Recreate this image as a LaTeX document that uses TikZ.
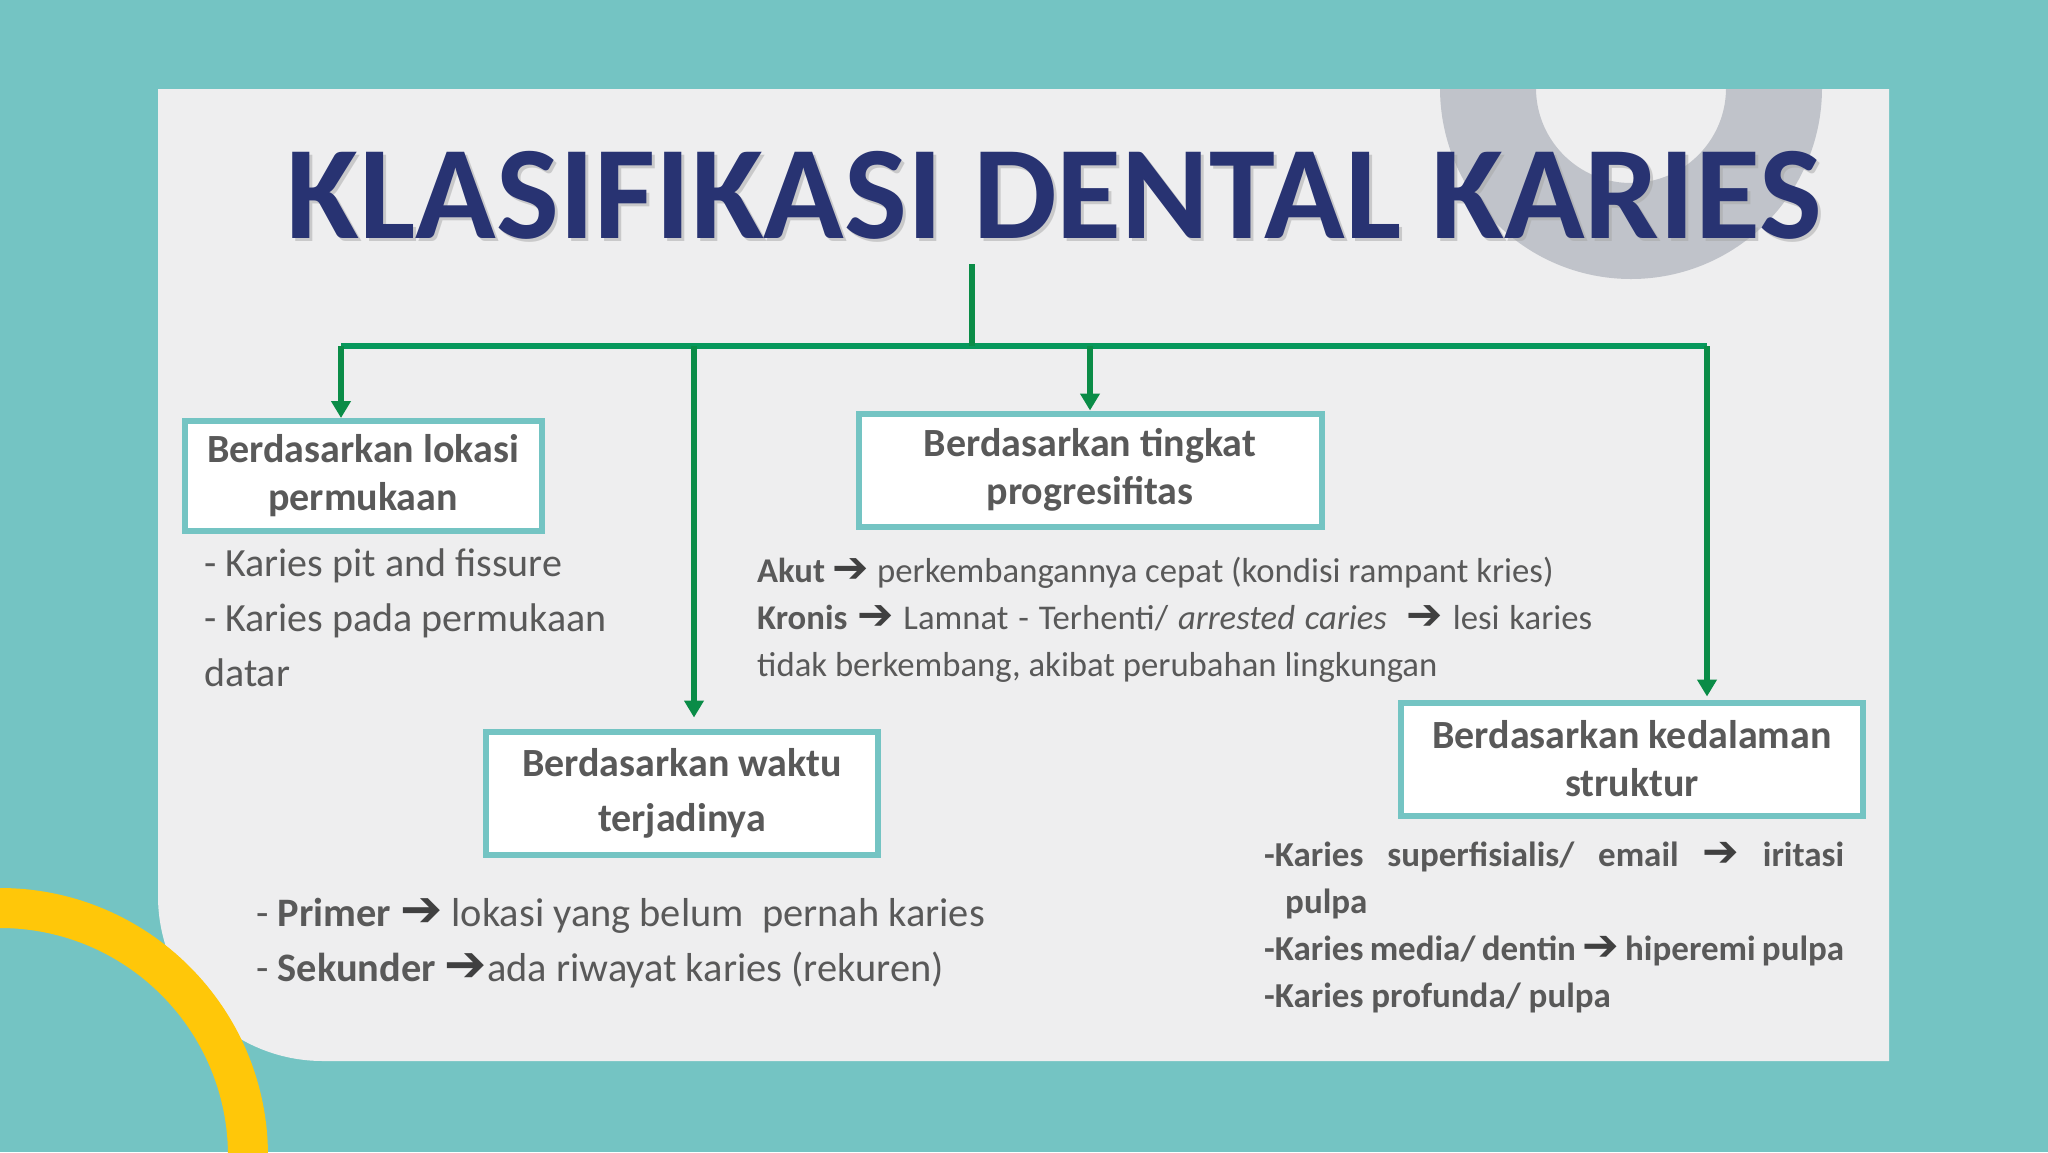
\documentclass[tikz,border=0pt]{standalone}
\usepackage{fontspec}
\setmainfont{Carlito}
\newfontfamily\arrowfont{DejaVu Sans}
\usetikzlibrary{arrows.meta}
\definecolor{tosca}{HTML}{74C4C3}
\definecolor{panelgray}{HTML}{EEEEEF}
\definecolor{ringgray}{HTML}{C0C3CA}
\definecolor{kuning}{HTML}{FFC709}
\definecolor{navy}{HTML}{283372}
\definecolor{teksgray}{HTML}{595959}
\definecolor{panahgray}{HTML}{404040}
\definecolor{hijaubar}{HTML}{07985C}
\definecolor{hijau}{HTML}{0A8C47}
\newcommand{\panah}{{\arrowfont\bfseries\color{panahgray}\scalebox{1.25}{➔}}}
\tikzset{
  kotak/.style={draw=tosca, line width=6pt, fill=white, inner sep=0pt, align=center,
    text=teksgray, font=\fontsize{40}{48}\selectfont\bfseries},
  batang/.style={draw=hijaubar, line width=6pt},
  cabang/.style={draw=hijau, line width=6pt, -{Triangle[width=19pt,length=17pt]}},
  isi/.style={anchor=base west, inner sep=0pt, text=teksgray}
}
\begin{document}
\begin{tikzpicture}[x=1pt,y=-1pt]
\useasboundingbox (0,0) rectangle (2048,1152);
\clip (0,0) rectangle (2048,1152);
% latar
\fill[tosca] (0,0) rectangle (2048,1152);
\fill[panelgray] (158,600) -- (158,89) -- (1889,89) -- (1889,1061) -- (1000,1061)
  [rounded corners=165pt] -- (158,1061) -- (158,600);
\begin{scope}
\clip (158,89) rectangle (1889,1061);
\draw[ringgray, line width=96pt] (1631,88) circle[radius=143];
\end{scope}
\draw[kuning, line width=40pt] (0,1156) circle[radius=248];
% judul
\node[anchor=base, text=black!35, opacity=0.5, font=\fontsize{133}{133}\selectfont\bfseries]
  at (1057,241) {KLASIFIKASI DENTAL KARIES};
\node (judul) [anchor=base, text=navy, font=\fontsize{133}{133}\selectfont\bfseries]
  at (1054,238) {KLASIFIKASI DENTAL KARIES};
% kotak
\node (lokasi) [kotak, minimum width=357pt, minimum height=110pt] at (363,476)
  {Berdasarkan lokasi\\permukaan};
\node (waktu) [kotak, minimum width=392pt, minimum height=123pt,
  font=\fontsize{40}{55}\selectfont\bfseries] at (682,793)
  {Berdasarkan waktu\\terjadinya};
\node (tingkat) [kotak, minimum width=463pt, minimum height=113pt] at (1090,470)
  {Berdasarkan tingkat\\progresifitas};
\node (kedalaman) [kotak, minimum width=462pt, minimum height=113pt] at (1632,759)
  {Berdasarkan kedalaman\\struktur};
% garis
\coordinate (puncak) at (972,264);
\coordinate (hub) at (972,346);
\coordinate (k1) at ([xshift=-22pt]lokasi.north);
\coordinate (k2) at ([xshift=12pt,yshift=11pt]waktu.north);
\coordinate (k3) at (tingkat.north);
\coordinate (k4) at ([xshift=75pt,yshift=3pt]kedalaman.north);
\draw[batang] (k1 |- hub) -- (k4 |- hub);
\draw[draw=hijau, line width=6pt] (puncak) -- (hub);
\draw[cabang] (k1 |- hub) -- (k1);
\draw[cabang] (k2 |- hub) -- (k2);
\draw[cabang] (k3 |- hub) -- (k3);
\draw[cabang] (k4 |- hub) -- (k4);
% isi (baseline of last line)
\node (isilokasi) [isi, align=left, font=\fontsize{40}{55}\selectfont] at (204,686)
  {- Karies pit and fissure\\- Karies pada permukaan\\datar};
\node (isitingkat) [isi, text width=835pt, align=justify, font=\fontsize{34.7}{47}\selectfont]
  at (757,582)
  {\textbf{Akut} \panah{} perkembangannya cepat (kondisi rampant kries)\\
   \textbf{Kronis} \panah{} Lamnat - Terhenti/ \textit{arrested caries} \ \panah{} lesi karies\linebreak
   tidak berkembang, akibat perubahan lingkungan};
\node (isiwaktu) [isi, align=left, font=\fontsize{40.4}{55}\selectfont] at (256,981)
  {- \textbf{Primer} \panah{} lokasi yang belum \ pernah karies\\
   - \textbf{Sekunder} \panah{}ada riwayat karies (rekuren)};
\node (isikedalaman) [isi, text width=580pt, align=justify, font=\fontsize{35}{47}\selectfont\bfseries]
  at (1264,866)
  {-Karies superfisialis/ email \panah{} iritasi\linebreak
   \hspace*{21pt}pulpa\\
   -Karies media/ dentin \panah{} hiperemi pulpa\\
   -Karies profunda/ pulpa};
\end{tikzpicture}
\end{document}
